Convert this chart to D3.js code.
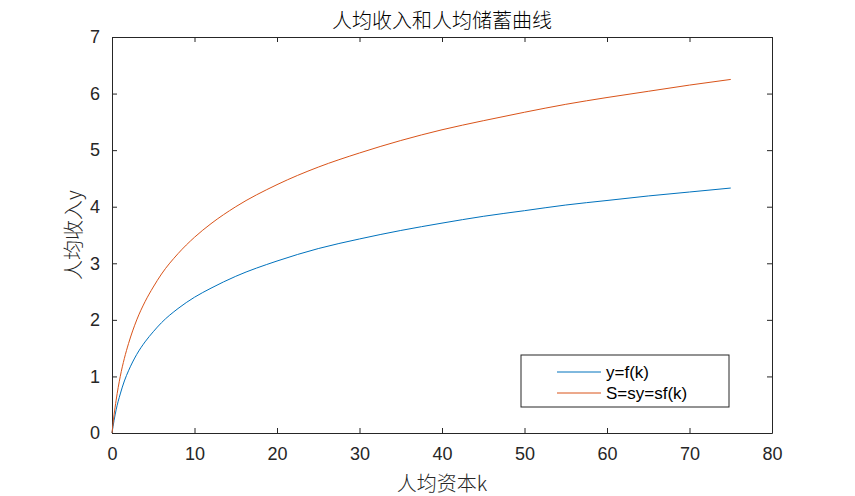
<!DOCTYPE html>
<html>
<head>
<meta charset="utf-8">
<script src="https://cdn.jsdelivr.net/npm/d3@7"></script>
<style>
  body { margin: 0; background: #fff; }
  svg { display: block; }
</style>
</head>
<body>
<svg id="chart" width="855" height="496"></svg>
<script>
// capital per head k
let kValues = [0, 0.25, 0.5, 1, 1.5, 2, 3, 4, 5, 6, 8, 10, 12, 15, 20, 25, 30, 35, 40, 45, 50, 55, 60, 65, 70, 75];
// y = f(k)
let incomeValues = [0, 0.22, 0.41, 0.69, 0.92, 1.10, 1.39, 1.61, 1.79, 1.95, 2.20, 2.40, 2.56, 2.77, 3.04, 3.26, 3.43, 3.58, 3.71, 3.83, 3.93, 4.03, 4.11, 4.19, 4.26, 4.33];
// S = sy = sf(k)
let savingValues = [0, 0.32, 0.58, 1.00, 1.32, 1.58, 2.00, 2.32, 2.58, 2.81, 3.17, 3.46, 3.70, 4.00, 4.39, 4.70, 4.95, 5.17, 5.36, 5.52, 5.67, 5.81, 5.93, 6.04, 6.15, 6.25];
let seriesNames = ["y=f(k)", "S=sy=sf(k)"];
let xTicks = [0, 10, 20, 30, 40, 50, 60, 70, 80];
let yTicks = [0, 1, 2, 3, 4, 5, 6, 7];

let margin = {top: 37, right: 83, bottom: 63, left: 112};
let width = 855, height = 496;
let axisColor = "#262626";
let colors = ["#0072BD", "#D95319"];
let numFont = "'Liberation Sans', Arial, sans-serif";
let cjkFont = "'Noto Sans CJK SC', sans-serif";

let svg = d3.select("#chart");

let x = d3.scaleLinear().domain([0, 80]).range([margin.left, width - margin.right]);
let y = d3.scaleLinear().domain([0, 7]).range([height - margin.bottom, margin.top]);

// axes: ticks point inward, box closed on all sides
function styleAxis(g) {
  g.selectAll("path").attr("stroke", axisColor);
  g.selectAll("line").attr("stroke", axisColor);
  g.selectAll("text")
    .attr("fill", axisColor)
    .style("font-family", numFont)
    .style("font-size", "18px");
}

svg.append("g")
  .attr("transform", "translate(0," + y(0) + ")")
  .call(d3.axisBottom(x).tickValues(xTicks).tickSizeInner(-5).tickSizeOuter(0).tickPadding(14).tickFormat(d3.format("d")))
  .call(styleAxis);

svg.append("g")
  .attr("transform", "translate(0," + y(7) + ")")
  .call(d3.axisTop(x).tickValues(xTicks).tickSizeInner(-5).tickSizeOuter(0).tickFormat(""))
  .call(styleAxis);

svg.append("g")
  .attr("transform", "translate(" + x(0) + ",0)")
  .call(d3.axisLeft(y).tickValues(yTicks).tickSizeInner(-5).tickSizeOuter(0).tickPadding(12).tickFormat(d3.format("d")))
  .call(styleAxis);

svg.append("g")
  .attr("transform", "translate(" + x(80) + ",0)")
  .call(d3.axisRight(y).tickValues(yTicks).tickSizeInner(-5).tickSizeOuter(0).tickFormat(""))
  .call(styleAxis);

// curves
let series = [incomeValues, savingValues];
let line = d3.line()
  .x(function(d, i) { return x(kValues[i]); })
  .y(function(d) { return y(d); })
  .curve(d3.curveMonotoneX);

svg.append("g")
  .selectAll("path")
  .data(series)
  .enter()
  .append("path")
  .attr("d", line)
  .attr("fill", "none")
  .attr("stroke", function(d, i) { return colors[i]; })
  .attr("stroke-width", 1);

// title and axis labels
svg.append("text")
  .attr("x", (x(0) + x(80)) / 2)
  .attr("y", 28)
  .attr("text-anchor", "middle")
  .attr("fill", "#000")
  .style("font-family", cjkFont)
  .style("font-weight", 300)
  .style("font-size", "20px")
  .text("人均收入和人均储蓄曲线");

svg.append("text")
  .attr("x", (x(0) + x(80)) / 2)
  .attr("y", 491)
  .attr("text-anchor", "middle")
  .attr("fill", axisColor)
  .style("font-family", cjkFont)
  .style("font-weight", 300)
  .style("font-size", "20px")
  .text("人均资本k");

svg.append("text")
  .attr("transform", "translate(81," + ((y(0) + y(7)) / 2) + ") rotate(-90)")
  .attr("text-anchor", "middle")
  .attr("fill", axisColor)
  .style("font-family", cjkFont)
  .style("font-weight", 300)
  .style("font-size", "20px")
  .text("人均收入y");

// legend
let legend = svg.append("g").attr("transform", "translate(521,355)");
legend.append("rect")
  .attr("width", 208)
  .attr("height", 52)
  .attr("fill", "#fff")
  .attr("stroke", axisColor)
  .attr("stroke-width", 1);

let items = legend.selectAll(".key")
  .data(seriesNames)
  .enter()
  .append("g")
  .attr("transform", function(d, i) { return "translate(0," + (17 + i * 21) + ")"; });

items.append("line")
  .attr("x1", 36).attr("x2", 80)
  .attr("stroke", function(d, i) { return colors[i]; })
  .attr("stroke-width", 1);

items.append("text")
  .attr("x", 85)
  .attr("y", 6)
  .attr("fill", "#000")
  .style("font-family", numFont)
  .style("font-size", "17px")
  .text(function(d) { return d; });
</script>
</body>
</html>
